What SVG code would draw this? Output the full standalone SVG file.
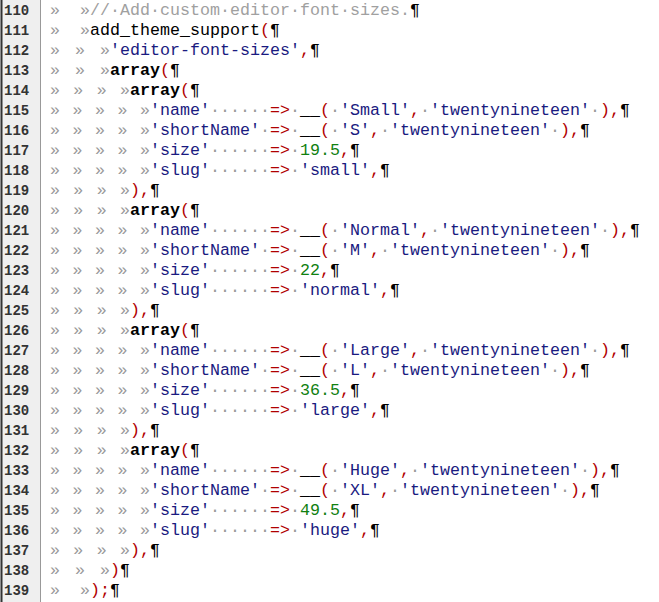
<svg xmlns="http://www.w3.org/2000/svg" width="659" height="602" viewBox="0 0 659 602">
<style>
text{font-family:"Courier New","Liberation Mono","DejaVu Sans Mono","Noto Sans Mono",monospace;font-size:16.67px}
.ln{font-size:14px;fill:#333;font-weight:bold}
.w{fill:#999}.c{fill:#a0a0a0}.p{fill:#b00000}.s{fill:#1a1a80}.n{fill:#108010}.k{font-weight:bold;fill:#000}.f{fill:#000}
</style>
<rect width="659" height="602" fill="#fff"/>
<rect x="0" y="0" width="40" height="602" fill="#efefef"/>
<line x1="1.5" y1="0" x2="1.5" y2="602" stroke="#333" stroke-width="2"/>
<line x1="40.5" y1="0" x2="40.5" y2="602" stroke="#999"/>
<g id="numbers">
<text class="ln" x="4" y="15">110</text><text class="ln" x="4" y="35">111</text><text class="ln" x="4" y="55">112</text><text class="ln" x="4" y="75">113</text><text class="ln" x="4" y="95">114</text><text class="ln" x="4" y="115">115</text><text class="ln" x="4" y="135">116</text><text class="ln" x="4" y="155">117</text><text class="ln" x="4" y="175">118</text><text class="ln" x="4" y="195">119</text><text class="ln" x="4" y="215">120</text><text class="ln" x="4" y="235">121</text><text class="ln" x="4" y="255">122</text><text class="ln" x="4" y="275">123</text><text class="ln" x="4" y="295">124</text><text class="ln" x="4" y="315">125</text><text class="ln" x="4" y="335">126</text><text class="ln" x="4" y="355">127</text><text class="ln" x="4" y="375">128</text><text class="ln" x="4" y="395">129</text><text class="ln" x="4" y="415">130</text><text class="ln" x="4" y="435">131</text><text class="ln" x="4" y="455">132</text><text class="ln" x="4" y="475">133</text><text class="ln" x="4" y="495">134</text><text class="ln" x="4" y="515">135</text><text class="ln" x="4" y="535">136</text><text class="ln" x="4" y="555">137</text><text class="ln" x="4" y="575">138</text><text class="ln" x="4" y="595">139</text>
</g>
<g id="code">
<text y="15"><tspan class="w" x="50" textLength="40">»»</tspan><tspan class="c" x="90" textLength="320">//·Add·custom·editor·font·sizes.</tspan><tspan class="f" x="410">¶</tspan></text>
<text y="35"><tspan class="w" x="50" textLength="40">»»</tspan><tspan class="f" x="90" textLength="170">add_theme_support</tspan><tspan class="p" x="260">(</tspan><tspan class="f" x="270">¶</tspan></text>
<text y="55"><tspan class="w" x="50" textLength="60">»»»</tspan><tspan class="s" x="110" textLength="190">'editor-font-sizes'</tspan><tspan class="p" x="300">,</tspan><tspan class="f" x="310">¶</tspan></text>
<text y="75"><tspan class="w" x="50" textLength="60">»»»</tspan><tspan class="k" x="110" textLength="50">array</tspan><tspan class="p" x="160">(</tspan><tspan class="f" x="170">¶</tspan></text>
<text y="95"><tspan class="w" x="50" textLength="80">»»»»</tspan><tspan class="k" x="130" textLength="50">array</tspan><tspan class="p" x="180">(</tspan><tspan class="f" x="190">¶</tspan></text>
<text y="115"><tspan class="w" x="50" textLength="100">»»»»»</tspan><tspan class="s" x="150" textLength="60">'name'</tspan><tspan class="w" x="210" textLength="60">······</tspan><tspan class="p" x="270" textLength="20">=&gt;</tspan><tspan class="w" x="290">·</tspan><tspan class="f" x="300" textLength="20">__</tspan><tspan class="p" x="320">(</tspan><tspan class="w" x="330">·</tspan><tspan class="s" x="340" textLength="70">'Small'</tspan><tspan class="p" x="410">,</tspan><tspan class="w" x="420">·</tspan><tspan class="s" x="430" textLength="160">'twentynineteen'</tspan><tspan class="w" x="590">·</tspan><tspan class="p" x="600" textLength="20">),</tspan><tspan class="f" x="620">¶</tspan></text>
<text y="135"><tspan class="w" x="50" textLength="100">»»»»»</tspan><tspan class="s" x="150" textLength="110">'shortName'</tspan><tspan class="w" x="260">·</tspan><tspan class="p" x="270" textLength="20">=&gt;</tspan><tspan class="w" x="290">·</tspan><tspan class="f" x="300" textLength="20">__</tspan><tspan class="p" x="320">(</tspan><tspan class="w" x="330">·</tspan><tspan class="s" x="340" textLength="30">'S'</tspan><tspan class="p" x="370">,</tspan><tspan class="w" x="380">·</tspan><tspan class="s" x="390" textLength="160">'twentynineteen'</tspan><tspan class="w" x="550">·</tspan><tspan class="p" x="560" textLength="20">),</tspan><tspan class="f" x="580">¶</tspan></text>
<text y="155"><tspan class="w" x="50" textLength="100">»»»»»</tspan><tspan class="s" x="150" textLength="60">'size'</tspan><tspan class="w" x="210" textLength="60">······</tspan><tspan class="p" x="270" textLength="20">=&gt;</tspan><tspan class="w" x="290">·</tspan><tspan class="n" x="300" textLength="40">19.5</tspan><tspan class="p" x="340">,</tspan><tspan class="f" x="350">¶</tspan></text>
<text y="175"><tspan class="w" x="50" textLength="100">»»»»»</tspan><tspan class="s" x="150" textLength="60">'slug'</tspan><tspan class="w" x="210" textLength="60">······</tspan><tspan class="p" x="270" textLength="20">=&gt;</tspan><tspan class="w" x="290">·</tspan><tspan class="s" x="300" textLength="70">'small'</tspan><tspan class="p" x="370">,</tspan><tspan class="f" x="380">¶</tspan></text>
<text y="195"><tspan class="w" x="50" textLength="80">»»»»</tspan><tspan class="p" x="130" textLength="20">),</tspan><tspan class="f" x="150">¶</tspan></text>
<text y="215"><tspan class="w" x="50" textLength="80">»»»»</tspan><tspan class="k" x="130" textLength="50">array</tspan><tspan class="p" x="180">(</tspan><tspan class="f" x="190">¶</tspan></text>
<text y="235"><tspan class="w" x="50" textLength="100">»»»»»</tspan><tspan class="s" x="150" textLength="60">'name'</tspan><tspan class="w" x="210" textLength="60">······</tspan><tspan class="p" x="270" textLength="20">=&gt;</tspan><tspan class="w" x="290">·</tspan><tspan class="f" x="300" textLength="20">__</tspan><tspan class="p" x="320">(</tspan><tspan class="w" x="330">·</tspan><tspan class="s" x="340" textLength="80">'Normal'</tspan><tspan class="p" x="420">,</tspan><tspan class="w" x="430">·</tspan><tspan class="s" x="440" textLength="160">'twentynineteen'</tspan><tspan class="w" x="600">·</tspan><tspan class="p" x="610" textLength="20">),</tspan><tspan class="f" x="630">¶</tspan></text>
<text y="255"><tspan class="w" x="50" textLength="100">»»»»»</tspan><tspan class="s" x="150" textLength="110">'shortName'</tspan><tspan class="w" x="260">·</tspan><tspan class="p" x="270" textLength="20">=&gt;</tspan><tspan class="w" x="290">·</tspan><tspan class="f" x="300" textLength="20">__</tspan><tspan class="p" x="320">(</tspan><tspan class="w" x="330">·</tspan><tspan class="s" x="340" textLength="30">'M'</tspan><tspan class="p" x="370">,</tspan><tspan class="w" x="380">·</tspan><tspan class="s" x="390" textLength="160">'twentynineteen'</tspan><tspan class="w" x="550">·</tspan><tspan class="p" x="560" textLength="20">),</tspan><tspan class="f" x="580">¶</tspan></text>
<text y="275"><tspan class="w" x="50" textLength="100">»»»»»</tspan><tspan class="s" x="150" textLength="60">'size'</tspan><tspan class="w" x="210" textLength="60">······</tspan><tspan class="p" x="270" textLength="20">=&gt;</tspan><tspan class="w" x="290">·</tspan><tspan class="n" x="300" textLength="20">22</tspan><tspan class="p" x="320">,</tspan><tspan class="f" x="330">¶</tspan></text>
<text y="295"><tspan class="w" x="50" textLength="100">»»»»»</tspan><tspan class="s" x="150" textLength="60">'slug'</tspan><tspan class="w" x="210" textLength="60">······</tspan><tspan class="p" x="270" textLength="20">=&gt;</tspan><tspan class="w" x="290">·</tspan><tspan class="s" x="300" textLength="80">'normal'</tspan><tspan class="p" x="380">,</tspan><tspan class="f" x="390">¶</tspan></text>
<text y="315"><tspan class="w" x="50" textLength="80">»»»»</tspan><tspan class="p" x="130" textLength="20">),</tspan><tspan class="f" x="150">¶</tspan></text>
<text y="335"><tspan class="w" x="50" textLength="80">»»»»</tspan><tspan class="k" x="130" textLength="50">array</tspan><tspan class="p" x="180">(</tspan><tspan class="f" x="190">¶</tspan></text>
<text y="355"><tspan class="w" x="50" textLength="100">»»»»»</tspan><tspan class="s" x="150" textLength="60">'name'</tspan><tspan class="w" x="210" textLength="60">······</tspan><tspan class="p" x="270" textLength="20">=&gt;</tspan><tspan class="w" x="290">·</tspan><tspan class="f" x="300" textLength="20">__</tspan><tspan class="p" x="320">(</tspan><tspan class="w" x="330">·</tspan><tspan class="s" x="340" textLength="70">'Large'</tspan><tspan class="p" x="410">,</tspan><tspan class="w" x="420">·</tspan><tspan class="s" x="430" textLength="160">'twentynineteen'</tspan><tspan class="w" x="590">·</tspan><tspan class="p" x="600" textLength="20">),</tspan><tspan class="f" x="620">¶</tspan></text>
<text y="375"><tspan class="w" x="50" textLength="100">»»»»»</tspan><tspan class="s" x="150" textLength="110">'shortName'</tspan><tspan class="w" x="260">·</tspan><tspan class="p" x="270" textLength="20">=&gt;</tspan><tspan class="w" x="290">·</tspan><tspan class="f" x="300" textLength="20">__</tspan><tspan class="p" x="320">(</tspan><tspan class="w" x="330">·</tspan><tspan class="s" x="340" textLength="30">'L'</tspan><tspan class="p" x="370">,</tspan><tspan class="w" x="380">·</tspan><tspan class="s" x="390" textLength="160">'twentynineteen'</tspan><tspan class="w" x="550">·</tspan><tspan class="p" x="560" textLength="20">),</tspan><tspan class="f" x="580">¶</tspan></text>
<text y="395"><tspan class="w" x="50" textLength="100">»»»»»</tspan><tspan class="s" x="150" textLength="60">'size'</tspan><tspan class="w" x="210" textLength="60">······</tspan><tspan class="p" x="270" textLength="20">=&gt;</tspan><tspan class="w" x="290">·</tspan><tspan class="n" x="300" textLength="40">36.5</tspan><tspan class="p" x="340">,</tspan><tspan class="f" x="350">¶</tspan></text>
<text y="415"><tspan class="w" x="50" textLength="100">»»»»»</tspan><tspan class="s" x="150" textLength="60">'slug'</tspan><tspan class="w" x="210" textLength="60">······</tspan><tspan class="p" x="270" textLength="20">=&gt;</tspan><tspan class="w" x="290">·</tspan><tspan class="s" x="300" textLength="70">'large'</tspan><tspan class="p" x="370">,</tspan><tspan class="f" x="380">¶</tspan></text>
<text y="435"><tspan class="w" x="50" textLength="80">»»»»</tspan><tspan class="p" x="130" textLength="20">),</tspan><tspan class="f" x="150">¶</tspan></text>
<text y="455"><tspan class="w" x="50" textLength="80">»»»»</tspan><tspan class="k" x="130" textLength="50">array</tspan><tspan class="p" x="180">(</tspan><tspan class="f" x="190">¶</tspan></text>
<text y="475"><tspan class="w" x="50" textLength="100">»»»»»</tspan><tspan class="s" x="150" textLength="60">'name'</tspan><tspan class="w" x="210" textLength="60">······</tspan><tspan class="p" x="270" textLength="20">=&gt;</tspan><tspan class="w" x="290">·</tspan><tspan class="f" x="300" textLength="20">__</tspan><tspan class="p" x="320">(</tspan><tspan class="w" x="330">·</tspan><tspan class="s" x="340" textLength="60">'Huge'</tspan><tspan class="p" x="400">,</tspan><tspan class="w" x="410">·</tspan><tspan class="s" x="420" textLength="160">'twentynineteen'</tspan><tspan class="w" x="580">·</tspan><tspan class="p" x="590" textLength="20">),</tspan><tspan class="f" x="610">¶</tspan></text>
<text y="495"><tspan class="w" x="50" textLength="100">»»»»»</tspan><tspan class="s" x="150" textLength="110">'shortName'</tspan><tspan class="w" x="260">·</tspan><tspan class="p" x="270" textLength="20">=&gt;</tspan><tspan class="w" x="290">·</tspan><tspan class="f" x="300" textLength="20">__</tspan><tspan class="p" x="320">(</tspan><tspan class="w" x="330">·</tspan><tspan class="s" x="340" textLength="40">'XL'</tspan><tspan class="p" x="380">,</tspan><tspan class="w" x="390">·</tspan><tspan class="s" x="400" textLength="160">'twentynineteen'</tspan><tspan class="w" x="560">·</tspan><tspan class="p" x="570" textLength="20">),</tspan><tspan class="f" x="590">¶</tspan></text>
<text y="515"><tspan class="w" x="50" textLength="100">»»»»»</tspan><tspan class="s" x="150" textLength="60">'size'</tspan><tspan class="w" x="210" textLength="60">······</tspan><tspan class="p" x="270" textLength="20">=&gt;</tspan><tspan class="w" x="290">·</tspan><tspan class="n" x="300" textLength="40">49.5</tspan><tspan class="p" x="340">,</tspan><tspan class="f" x="350">¶</tspan></text>
<text y="535"><tspan class="w" x="50" textLength="100">»»»»»</tspan><tspan class="s" x="150" textLength="60">'slug'</tspan><tspan class="w" x="210" textLength="60">······</tspan><tspan class="p" x="270" textLength="20">=&gt;</tspan><tspan class="w" x="290">·</tspan><tspan class="s" x="300" textLength="60">'huge'</tspan><tspan class="p" x="360">,</tspan><tspan class="f" x="370">¶</tspan></text>
<text y="555"><tspan class="w" x="50" textLength="80">»»»»</tspan><tspan class="p" x="130" textLength="20">),</tspan><tspan class="f" x="150">¶</tspan></text>
<text y="575"><tspan class="w" x="50" textLength="60">»»»</tspan><tspan class="p" x="110">)</tspan><tspan class="f" x="120">¶</tspan></text>
<text y="595"><tspan class="w" x="50" textLength="40">»»</tspan><tspan class="p" x="90" textLength="20">);</tspan><tspan class="f" x="110">¶</tspan></text>
</g>
</svg>
